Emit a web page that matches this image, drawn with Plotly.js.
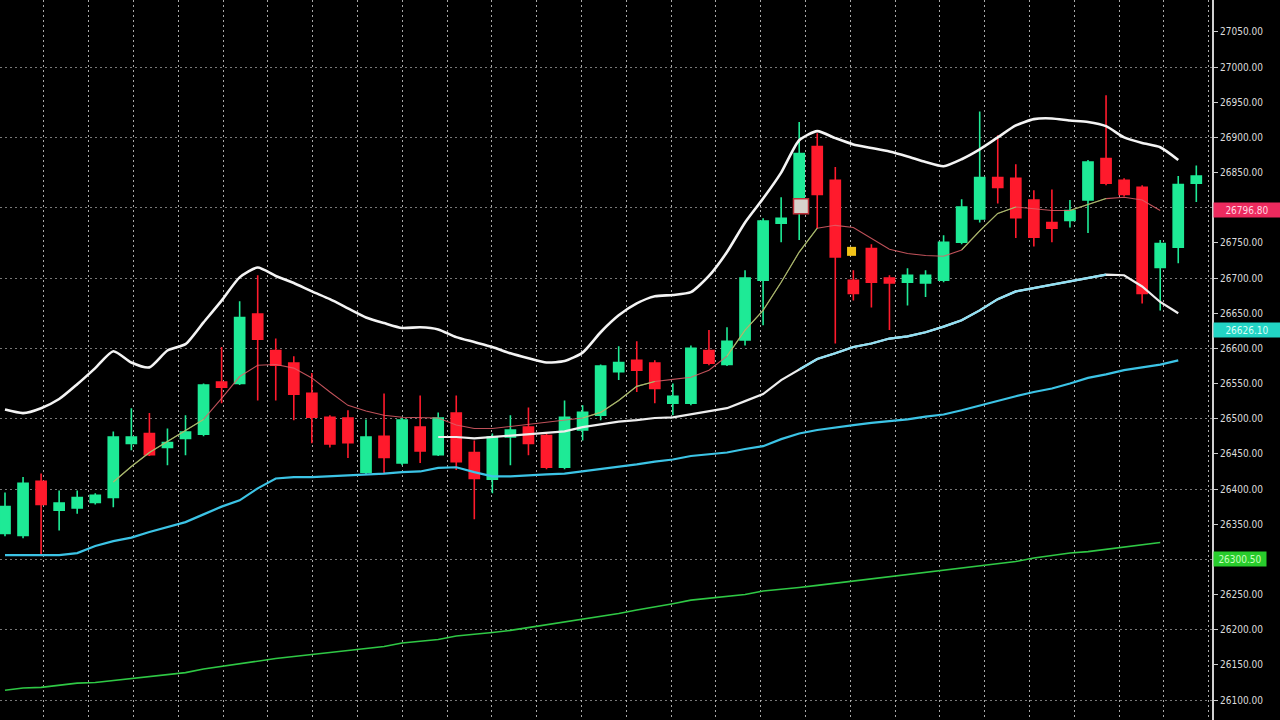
<!DOCTYPE html>
<html>
<head>
<meta charset="utf-8">
<script src="https://cdn.plot.ly/plotly-3.0.1.min.js"></script>
<style>
  html, body { margin: 0; padding: 0; background: #000; }
  #chart { width: 1280px; height: 720px; }
</style>
</head>
<body>
<div id="chart"></div>
<script>
// ---- data ----
const openPrices = [26337,26334,26411,26370,26373,26381,26388,26465,26479,26459,
  26472,26478,26552,26550,26649,26597,26579,26536,26502,26501,
  26424,26475,26437,26488,26449,26508,26452,26414,26474,26488,
  26476,26431,26484,26505,26567,26583,26579,26522,26522,26597,
  26577,26612,26697,26778,26815,26887,26839,26697,26742,26700,
  26694,26693,26697,26751,26784,26843,26842,26811,26779,26782,
  26811,26870,26839,26829,26715,26744,26835];
const highPrices = [26395,26417,26422,26398,26398,26394,26482,26515,26508,26486,
  26505,26550,26602,26667,26704,26614,26589,26565,26505,26512,
  26499,26536,26501,26533,26509,26533,26469,26479,26505,26516,
  26479,26526,26519,26577,26603,26610,26583,26550,26604,26626,
  26630,26711,26785,26815,26922,26906,26858,26711,26748,26704,
  26714,26711,26761,26812,26937,26903,26862,26825,26826,26811,
  26868,26960,26842,26832,26754,26845,26860];
const lowPrices = [26333,26330,26306,26341,26365,26378,26374,26455,26447,26434,
  26448,26475,26522,26548,26526,26526,26498,26465,26459,26444,
  26421,26422,26434,26437,26447,26427,26357,26394,26434,26448,
  26428,26428,26469,26498,26555,26538,26522,26505,26519,26576,
  26575,26604,26633,26751,26754,26771,26607,26668,26658,26626,
  26661,26673,26694,26748,26779,26806,26757,26745,26751,26772,
  26764,26832,26816,26664,26654,26721,26808];
const closePrices = [26375,26408,26378,26380,26388,26391,26474,26474,26449,26466,
  26481,26548,26545,26644,26613,26576,26535,26502,26464,26466,
  26474,26445,26498,26454,26501,26439,26415,26474,26484,26465,
  26431,26502,26509,26575,26580,26569,26543,26532,26600,26579,
  26610,26700,26781,26785,26877,26819,26730,26678,26694,26693,
  26704,26704,26751,26801,26843,26829,26786,26758,26771,26796,
  26865,26835,26819,26678,26749,26833,26845];

const upperBand = [26513,26508,26515,26528,26549,26572,26596,26580,26573,26597,
  26606,26637,26668,26701,26715,26703,26693,26681,26670,26657,
  26644,26636,26629,26630,26627,26616,26609,26602,26593,26586,
  26580,26582,26594,26623,26647,26664,26674,26676,26680,26703,
  26737,26779,26813,26850,26896,26909,26899,26890,26885,26880,
  26873,26865,26859,26869,26883,26900,26917,26926,26927,26924,
  26922,26916,26900,26892,26886,26868,null];
const lowerBand = [null,null,null,null,null,null,null,null,null,null,
  null,null,null,null,null,null,null,null,null,null,
  null,null,null,null,26474,26474,26472,26474,26476,26478,
  26479,26482,26488,26492,26496,26498,26501,26502,26506,26511,
  26515,26525,26535,26555,26570,26585,26593,26602,26607,26614,
  26617,26623,26631,26640,26654,26670,26681,26686,26690,26695,
  26701,26705,26704,26688,26666,26650,null];
const cyanAverage = [26306,26306,26306,26306,26309,26319,26326,26331,26339,26346,
  26353,26364,26375,26384,26401,26415,26417,26417,26418,26420,
  26421,26422,26424,26425,26430,26431,26424,26418,26418,26420,
  26421,26422,26425,26428,26432,26435,26439,26442,26447,26449,
  26452,26457,26461,26471,26479,26484,26488,26491,26494,26496,
  26499,26503,26506,26512,26519,26525,26532,26538,26543,26550,
  26558,26563,26569,26573,26577,26583,null];
const fastAverage = [null,null,null,null,null,null,26410,26432,26452,26468,
  26484,26499,26529,26560,26576,26577,26572,26558,26538,26519,
  26511,26505,26502,26501,26501,26491,26486,26486,26489,26492,
  26495,26498,26501,26509,26526,26546,26553,26556,26559,26569,
  26589,26626,26654,26694,26737,26771,26775,26772,26757,26741,
  26735,26732,26731,26740,26767,26792,26801,26798,26796,26796,
  26804,26813,26815,26811,26796,null,null];
const slowAverage = [26114,26117,26118,26121,26124,26125,26128,26131,26134,26137,
  26139,26144,26148,26151,26155,26159,26162,26165,26168,26171,
  26174,26176,26181,26184,26186,26191,26193,26196,26199,26203,
  26206,26210,26215,26219,26223,26228,26232,26237,26242,26245,
  26247,26250,26255,26257,26260,26263,26266,26269,26272,26276,
  26279,26282,26284,26287,26290,26294,26297,26302,26306,26309,
  26311,26314,26317,26321,26324,null,null];

// small chart markers
const boxMarkX = [44.1];
const boxMarkY = [26802];
const dotMarkX = [46.9];
const dotMarkY = [26738];

// price badges on the right axis
const badgePrices = [26796.80, 26626.10, 26300.50];

// right-axis tick labels (the ones under the badges are hidden in the reference)
const axisTickValues = [26100,26150,26200,26250,26350,26400,26450,26500,26550,
  26600,26650,26700,26750,26850,26900,26950,27000,27050];

// ---- build ----
const idx = openPrices.map((_, i) => i);
const lowerCyanFrom = 44, lowerCyanTo = 61;
const upSegments = [[6, 11], [32, 36], [40, 45], [53, 56], [59, 61]];
const inUp = i => upSegments.some(s => i >= s[0] && i <= s[1]);

const yRange = [26071.6, 27095.4];

const traces = [
  { type: 'scatter', mode: 'lines', x: idx, y: slowAverage,
    line: { color: '#2fc845', width: 1.6 }, hoverinfo: 'skip' },
  { type: 'scatter', mode: 'lines', x: idx, y: cyanAverage,
    line: { color: '#3cc4e6', width: 2.2 }, hoverinfo: 'skip' },
  { type: 'scatter', mode: 'lines', x: idx, y: lowerBand,
    line: { color: '#eeeeee', width: 2.2 }, hoverinfo: 'skip' },
  { type: 'scatter', mode: 'lines', x: idx,
    y: lowerBand.map((v, i) => (i >= lowerCyanFrom && i <= lowerCyanTo) ? v : null),
    line: { color: '#8fe0f4', width: 2.2 }, hoverinfo: 'skip' },
  { type: 'scatter', mode: 'lines', x: idx, y: upperBand,
    line: { color: '#f4f4f4', width: 2.6, shape: 'spline', smoothing: 0.6 }, hoverinfo: 'skip' },
  { type: 'scatter', mode: 'lines', x: idx, y: fastAverage,
    line: { color: 'rgba(225,95,105,0.85)', width: 1.1 }, hoverinfo: 'skip' },
  { type: 'scatter', mode: 'lines', x: idx,
    y: fastAverage.map((v, i) => inUp(i) ? v : null),
    line: { color: 'rgba(150,215,110,0.85)', width: 1.1 }, hoverinfo: 'skip' },
  { type: 'candlestick', x: idx, open: openPrices, high: highPrices, low: lowPrices, close: closePrices,
    increasing: { line: { color: '#1eea96', width: 1.6 }, fillcolor: '#1eea96' },
    decreasing: { line: { color: '#ff1a2c', width: 1.6 }, fillcolor: '#ff1a2c' },
    whiskerwidth: 0, hoverinfo: 'skip' },
  { type: 'scatter', mode: 'markers', x: boxMarkX, y: boxMarkY,
    marker: { symbol: 'square', size: 15, color: '#d8d2cc', line: { color: '#c0303a', width: 1.5 } },
    hoverinfo: 'skip' },
  { type: 'scatter', mode: 'markers', x: dotMarkX, y: dotMarkY, yaxis: 'y2',
    marker: { symbol: 'square', size: 9, color: '#f2c318' }, hoverinfo: 'skip' }
];

const badgeStyles = [
  { bg: '#ec2a5e', fg: '#ffd6e0', w: 66 },
  { bg: '#22d4c4', fg: '#d8fff8', w: 66 },
  { bg: '#28cc2c', fg: '#c8ffc0', w: 52 }
];
const annotations = badgePrices.map((p, k) => ({
  xref: 'paper', yref: 'y', x: 1, y: p, xanchor: 'left', yanchor: 'middle',
  xshift: 1, text: p.toFixed(2), showarrow: false,
  bgcolor: badgeStyles[k].bg, width: badgeStyles[k].w, height: 14,
  font: { family: 'DejaVu Sans Condensed, DejaVu Sans', size: 10, color: badgeStyles[k].fg },
  borderpad: 0
}));

const layout = {
  width: 1280, height: 720,
  paper_bgcolor: '#000000', plot_bgcolor: '#000000',
  margin: { l: 0, r: 68, t: 0, b: 0 },
  showlegend: false,
  boxgap: 0.2,
  xaxis: {
    range: [-0.277, 66.87], showticklabels: false, ticks: '',
    tick0: 2.16, dtick: 2.482, showgrid: true,
    gridcolor: 'rgba(225,225,225,0.75)', gridwidth: 1, griddash: '2px,3px',
    zeroline: false, showline: false, rangeslider: { visible: false }, fixedrange: true
  },
  yaxis: {
    range: yRange, side: 'right', showticklabels: false, ticks: '',
    tick0: 26100, dtick: 100, showgrid: true,
    gridcolor: 'rgba(200,200,200,0.6)', gridwidth: 1, griddash: '2px,3px',
    zeroline: false, showline: false, fixedrange: true
  },
  yaxis2: {
    range: yRange, overlaying: 'y', side: 'right',
    tickmode: 'array', tickvals: axisTickValues,
    ticktext: axisTickValues.map(v => v.toFixed(2)),
    showgrid: false, zeroline: false,
    ticks: 'outside', ticklen: 4, tickcolor: '#cccccc', tickwidth: 1,
    showline: true, linecolor: '#d0d0d0', linewidth: 2,
    tickfont: { family: 'DejaVu Sans Condensed, DejaVu Sans', size: 10, color: '#dcdcdc' },
    fixedrange: true
  },
  annotations: annotations
};

Plotly.newPlot('chart', traces, layout, { staticPlot: true, displayModeBar: false });
</script>
</body>
</html>
